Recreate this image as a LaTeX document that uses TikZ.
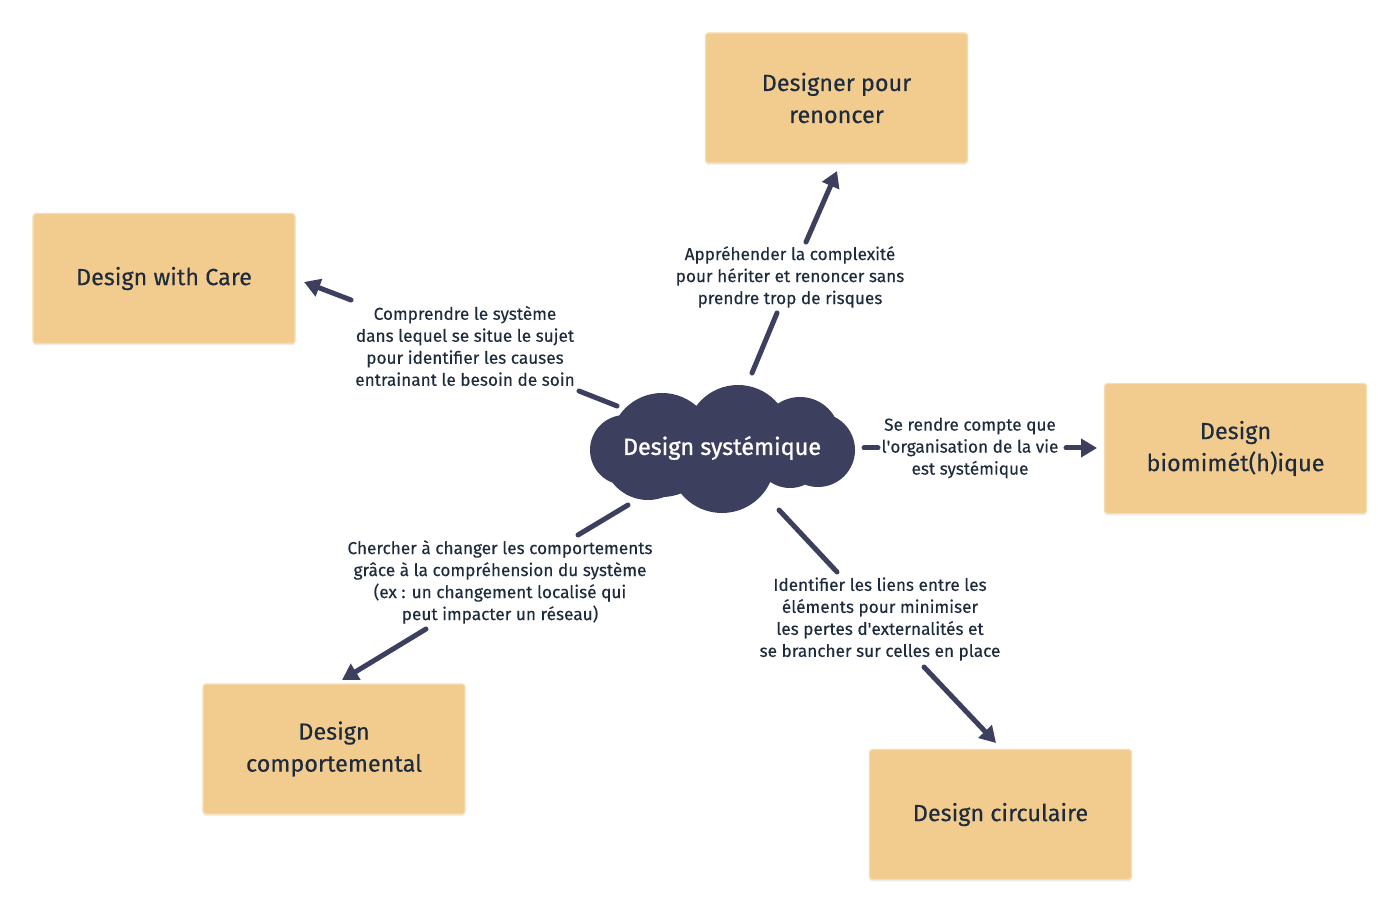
\documentclass[tikz,border=0pt]{standalone}
\usepackage{fontspec}
\setmainfont{Fira Sans}[FakeBold=0.3]
\newfontfamily\cloudfont{Fira Sans}[FakeBold=1.2]
\usetikzlibrary{arrows.meta,shadows}
\definecolor{boxfill}{HTML}{F2CC8F}
\definecolor{boxline}{HTML}{F6DDB0}
\definecolor{ink}{HTML}{1E2B3C}
\definecolor{cloudc}{HTML}{3D3F5E}
\tikzset{
  box/.style={draw=boxline, line width=0.6pt, fill=boxfill, rounded corners=1.5pt,
    minimum width=131pt, minimum height=65pt, align=center, text=ink,
    font=\fontsize{11.7}{16}\selectfont,
    drop shadow={opacity=0.12, shadow xshift=0pt, shadow yshift=-1pt}},
  lab/.style={align=center, text=ink, font=\fontsize{8.6}{11}\selectfont, inner sep=0pt},
  conn/.style={draw=cloudc, line width=2.5pt, line cap=round},
  arr/.style={conn, -{Triangle[length=8pt,width=9pt]}}
}
\begin{document}
\begin{tikzpicture}[x=0.5pt,y=-0.5pt]
\useasboundingbox (0,0) rectangle (1400,913);
% boxes
\node[box] (renoncer) at (836.5,98) {Designer pour\\renoncer};
\node[box] (care) at (164,278.5) {Design with Care};
\node[box] (biomim) at (1235.5,448.5) {Design\\biomimét(h)ique};
\node[box] (comport) at (334,749) {Design\\comportemental};
\node[box] (circ) at (1000.5,814.5) {Design circulaire};
% cloud
\fill[cloudc]
  (625,450) circle[radius=17.5pt]
  (662,445) circle[radius=26pt]
  (738,437) circle[radius=26pt]
  (800,437) circle[radius=20pt]
  (818,450) circle[radius=18.5pt]
  (790,453) circle[radius=17.5pt]
  (722,460) circle[radius=26.5pt]
  (648,455) circle[radius=22.5pt];
\node[text=white, font=\cloudfont\fontsize{11.7}{14}\selectfont, inner sep=0pt] (cloud) at (722,448) {Design systémique};
% labels
\node[lab] (l1) at (790,277) {Appréhender la complexité\\pour hériter et renoncer sans\\prendre trop de risques};
\node[lab] (l2) at (465,346) {Comprendre le système\\dans lequel se situe le sujet\\pour identifier les causes\\entrainant le besoin de soin};
\node[lab] (l3) at (970,448) {Se rendre compte que\\l\textquotesingle organisation de la vie\\est systémique};
\node[lab] (l4) at (500,582) {Chercher à changer les comportements\\grâce à la compréhension du système\\(ex : un changement localisé qui\\peut impacter un réseau)};
\node[lab] (l5) at (880,619) {Identifier les liens entre les\\éléments pour minimiser\\les pertes d\textquotesingle externalités et\\se brancher sur celles en place};
% connector end points
\coordinate (a1) at (752,373); \coordinate (b1) at (777,313);
\coordinate (c1) at (806,242); \coordinate (d1) at (837,171);
\coordinate (a2) at (617,406); \coordinate (b2) at (579,391);
\coordinate (c2) at (351,300); \coordinate (d2) at (304,282);
\coordinate (a3) at (864,448); \coordinate (b3) at (878,448);
\coordinate (c3) at (1066,448); \coordinate (d3) at (1097,448);
\coordinate (a4) at (628,505); \coordinate (b4) at (578,535);
\coordinate (c4) at (426,629); \coordinate (d4) at (342,680);
\coordinate (a5) at (779,510); \coordinate (b5) at (837,572);
\coordinate (c5) at (924,667); \coordinate (d5) at (996,743);
\draw[conn] (a1) -- (b1); \draw[arr] (c1) -- (d1);
\draw[conn] (a2) -- (b2); \draw[arr] (c2) -- (d2);
\draw[conn] (a3) -- (b3); \draw[arr] (c3) -- (d3);
\draw[conn] (a4) -- (b4); \draw[arr] (c4) -- (d4);
\draw[conn] (a5) -- (b5); \draw[arr] (c5) -- (d5);
\end{tikzpicture}
\end{document}
